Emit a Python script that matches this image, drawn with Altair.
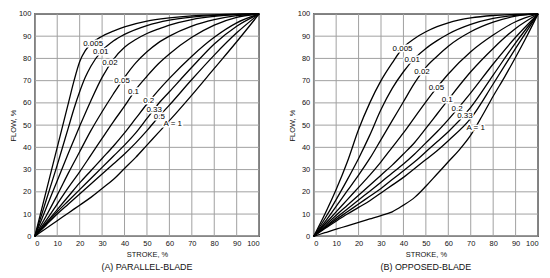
import altair as alt
import pandas as pd

FONT = "Liberation Sans"
CURVE_NAMES = ["0.005", "0.01", "0.02", "0.05", "0.1", "0.2", "0.33", "0.5", "1"]

S17 = [0, 5, 10, 15, 20, 25, 30, 35, 40, 45, 50, 55, 60, 70, 80, 90, 100]
S_STEEP = [0, 5, 10, 15, 17.5, 20, 22.5, 25, 30, 35, 40, 50, 60, 70, 80, 90, 100]

# ---- (A) Parallel-blade: stroke % and flow % per curve ----
PAR_STROKE = {
    "0.005": S_STEEP, "0.01": S_STEEP,
    "0.02": S17, "0.05": S17, "0.1": S17, "0.2": S17, "0.33": S17, "0.5": S17, "1": S17,
}
PAR_FLOW = {
    "0.005": [0, 20, 40, 60, 70, 78.5, 83.5, 86.5, 90, 92.3, 94.2, 96.8, 98.2, 99.1, 99.6, 99.9, 100],
    "0.01":  [0, 16, 32, 49, 57.5, 65, 71.5, 76.5, 83.5, 87.8, 90.8, 94.8, 97.2, 98.6, 99.4, 99.8, 100],
    "0.02":  [0, 12.5, 25, 37.5, 49.5, 61, 71.5, 79.5, 85, 88.5, 91.2, 93.2, 95, 97.5, 98.9, 99.7, 100],
    "0.05":  [0, 9, 18.5, 28.5, 38, 47.5, 56, 64, 71.5, 78, 83, 87, 90, 94.5, 97.4, 99.2, 100],
    "0.1":   [0, 7, 14.5, 22, 29, 36.5, 44, 51.5, 58.5, 66, 72, 77.5, 82, 89.5, 95, 98.5, 100],
    "0.2":   [0, 6, 12, 18, 24, 29.5, 35, 40.5, 46.5, 53, 59.5, 65.5, 71, 81, 89.5, 96, 100],
    "0.33":  [0, 5.5, 11, 16, 21, 26, 31, 36, 41, 46.5, 53, 59.5, 65, 76, 86.5, 94.5, 100],
    "0.5":   [0, 5, 10, 14.5, 19, 23.5, 28, 32.5, 37, 42, 47.5, 53.5, 59, 70.5, 81.5, 91.5, 100],
    "1":     [0, 3.5, 7, 10.5, 14, 17.5, 21.5, 25.5, 30.5, 35.5, 41, 46.5, 52, 63.5, 75.5, 87.5, 100],
}
PAR_LABELS = ["0.005", "0.01", "0.02", "0.05", "0.1", "0.2", "0.33", "0.5", "A = 1"]
PAR_LABEL_S = [26.0, 29.4, 33.5, 38.9, 44.0, 50.8, 53.2, 55.5, 61.5]
PAR_LABEL_F = [86.7, 83.0, 78.0, 69.8, 64.9, 60.7, 56.9, 53.8, 50.7]

# ---- (B) Opposed-blade ----
S21 = [0, 5, 10, 15, 20, 25, 30, 35, 40, 45, 50, 55, 60, 65, 70, 75, 80, 85, 90, 95, 100]
OPP_STROKE = {n: S17 for n in CURVE_NAMES[:-1]}
OPP_STROKE["1"] = S21
OPP_FLOW = {
    "0.005": [0, 10, 21, 33.5, 48, 60, 70, 78, 85, 89, 92, 94.3, 96, 98.2, 99.3, 99.8, 100],
    "0.01":  [0, 8, 16.5, 25.5, 35, 45.5, 57, 66.5, 74, 80, 84.5, 88, 91, 95.3, 98, 99.4, 100],
    "0.02":  [0, 6.5, 13.5, 20.5, 27.5, 35, 43.5, 52, 60.5, 69, 76, 81, 85.5, 92, 96.3, 99, 100],
    "0.05":  [0, 5.5, 11, 16.5, 22, 27.5, 33.5, 40, 46.5, 53.5, 60.5, 67, 73, 83, 90.5, 96.5, 100],
    "0.1":   [0, 4.8, 9.5, 14, 18.5, 23, 27.5, 32, 37, 42.2, 48.5, 55, 61.5, 74, 84.5, 93.5, 100],
    "0.2":   [0, 4.2, 8.3, 12.3, 16.3, 20.3, 24.3, 28.5, 32.5, 37, 42, 47, 52.5, 64.5, 77.5, 89.5, 100],
    "0.33":  [0, 3.8, 7.5, 11, 14.5, 18, 21.5, 25.5, 29.5, 33.5, 38, 42.5, 47, 58, 72.5, 87, 100],
    "0.5":   [0, 3.5, 6.8, 10, 13, 16, 19.5, 23, 26.5, 30.5, 34.5, 38.5, 43, 53, 68.5, 84.5, 100],
    "1":     [0, 1.6, 3.2, 4.7, 6.3, 7.8, 9.3, 11, 14, 17.5, 22.5, 28, 33.5, 39, 45.5, 54, 63, 71.5, 80.5, 90, 100],
}
OPP_LABELS = ["0.005", "0.01", "0.02", "0.05", "0.1", "0.2", "0.33", "A = 1"]
OPP_LABEL_S = [39.6, 43.9, 48.3, 54.7, 59.5, 63.9, 67.4, 72.2]
OPP_LABEL_F = [84.4, 79.3, 74.0, 66.7, 61.5, 57.4, 54.0, 48.5]

TICKS = [0, 10, 20, 30, 40, 50, 60, 70, 80, 90, 100]


def panel(strokes, flows, labels, lab_s, lab_f, caption):
    rows = []
    for name in CURVE_NAMES:
        for s, f in zip(strokes[name], flows[name]):
            rows.append({"curve": name, "s": s, "f": f})
    df = pd.DataFrame(rows)
    ldf = pd.DataFrame({"label": labels, "s": lab_s, "f": lab_f})
    gdf = pd.DataFrame({"s": TICKS, "f": TICKS})

    xs = alt.Scale(domain=[0, 100], nice=False)
    ys = alt.Scale(domain=[0, 100], nice=False)
    xa = alt.Axis(values=TICKS, title="STROKE, %", labelOverlap=False, grid=False,
                  labelPadding=3, titlePadding=4)
    ya = alt.Axis(values=TICKS, title="FLOW, %", labelOverlap=False, grid=False,
                  labelPadding=4, titlePadding=1)
    x = alt.X("s:Q", scale=xs, axis=xa)
    y = alt.Y("f:Q", scale=ys, axis=ya)

    vgrid = alt.Chart(gdf).mark_rule(color="#a0a0a0", strokeWidth=1).encode(x=x)
    hgrid = alt.Chart(gdf).mark_rule(color="#a0a0a0", strokeWidth=1).encode(y=y)
    lines = alt.Chart(df).mark_line(color="black", strokeWidth=1.3,
                                    interpolate="monotone").encode(
        x=x, y=y, detail="curve:N")
    halo = alt.Chart(ldf).mark_text(font=FONT, fontSize=8, color="white",
                                    stroke="white", strokeWidth=3).encode(
        x=x, y=y, text="label:N")
    txt = alt.Chart(ldf).mark_text(font=FONT, fontSize=8, color="black").encode(
        x=x, y=y, text="label:N")
    return alt.layer(vgrid, hgrid, lines, halo, txt).properties(
        width=226, height=224,
        title=alt.TitleParams(caption, orient="bottom", fontSize=9,
                              fontWeight="normal", font=FONT, color="#111",
                              offset=5, anchor="middle"))


left = panel(PAR_STROKE, PAR_FLOW, PAR_LABELS, PAR_LABEL_S, PAR_LABEL_F,
             "(A)  PARALLEL-BLADE")
right = panel(OPP_STROKE, OPP_FLOW, OPP_LABELS, OPP_LABEL_S, OPP_LABEL_F,
              "(B)  OPPOSED-BLADE")

chart = alt.hconcat(left, right, spacing=24).properties(
    padding={"left": 0, "top": 0, "right": 0, "bottom": 0}
).configure_axis(
    labelFont=FONT, labelFontSize=7.5, labelColor="#111",
    titleFont=FONT, titleFontSize=7.5, titleFontWeight="normal", titleColor="#111",
    domain=False, ticks=False,
).configure_view(stroke="#333", strokeWidth=1.5)

chart.save("out.html", embed_options={"renderer": "svg", "actions": False})
